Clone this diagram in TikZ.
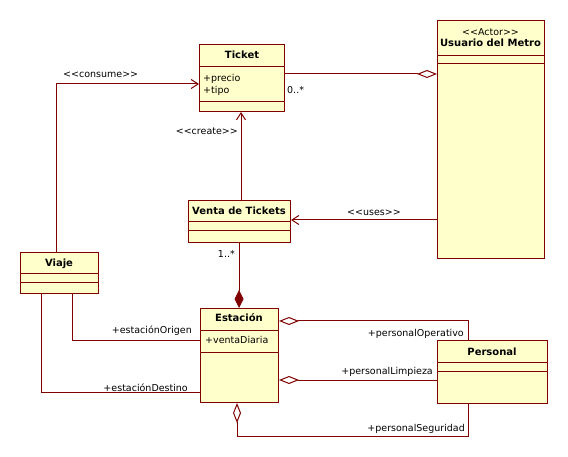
\documentclass[tikz,border=0pt]{standalone}
\usepackage{fontspec}
\setmainfont{DejaVu Sans}
\usetikzlibrary{arrows.meta,calc}
\definecolor{brd}{RGB}{128,0,0}
\definecolor{yel}{RGB}{255,255,204}
\begin{document}
\begin{tikzpicture}[x=1pt,y=-1pt,
  cls/.style={draw=brd,fill=yel,line width=1pt,inner sep=0pt,anchor=north west},
  sep/.style={draw=brd,line width=1pt},
  lbl/.style={font=\fontsize{9.5}{10}\selectfont,inner sep=0pt,anchor=base},
  ttl/.style={font=\fontsize{10}{11}\selectfont\bfseries,inner sep=0pt,anchor=base},
  conn/.style={draw=brd,line width=1pt},
  opena/.style={-{Straight Barb[length=7pt,width=9pt]}},
  agg/.style={-{Diamond[open,length=20pt,width=8pt]}},
  comp/.style={-{Diamond[length=18pt,width=9pt]}}
]
\useasboundingbox (0,0) rectangle (568,457);

% classes
\node[cls,minimum width=85pt,minimum height=67pt] (ticket) at (199,44) {};
\draw[sep] (199,67) -- (284,67);
\draw[sep] (199,102) -- (284,102);
\node[ttl] (tT) at (242,59) {Ticket};
\node[lbl,anchor=base west] (tA1) at (203,82) {+precio};
\node[lbl,anchor=base west] (tA2) at (203,94) {+tipo};

\node[cls,minimum width=107pt,minimum height=238pt] (usuario) at (437,20) {};
\draw[sep] (437,56) -- (544,56);
\draw[sep] (437,64) -- (544,64);
\node[lbl] (uS) at (490.5,36) {<{}<Actor>{}>};
\node[ttl] (uT) at (490.5,47) {Usuario del Metro};

\node[cls,minimum width=102pt,minimum height=42pt] (venta) at (188,200) {};
\draw[sep] (188,222) -- (290,222);
\draw[sep] (188,231) -- (290,231);
\node[ttl] (vT) at (239,215) {Venta de Tickets};

\node[cls,minimum width=78pt,minimum height=41pt] (viaje) at (20,252) {};
\draw[sep] (20,274) -- (98,274);
\draw[sep] (20,283) -- (98,283);
\node[ttl] (viT) at (59,267) {Viaje};

\node[cls,minimum width=78pt,minimum height=94pt] (estacion) at (200,308) {};
\draw[sep] (200,330) -- (278,330);
\draw[sep] (200,352) -- (278,352);
\node[ttl] (eT) at (239,322) {Estación};
\node[lbl,anchor=base west] (eA1) at (205,344) {+ventaDiaria};

\node[cls,minimum width=110pt,minimum height=63pt] (personal) at (437,340) {};
\draw[sep] (437,362) -- (547,362);
\draw[sep] (437,371) -- (547,371);
\node[ttl] (pT) at (492,355) {Personal};

% helper coordinates
\coordinate (cons) at (56,84);
\coordinate (cre) at (241,0);
\coordinate (uy) at (0,74);
\coordinate (usy) at (0,220);
\coordinate (cmp) at (239,0);
\coordinate (ox) at (72,340);
\coordinate (dx) at (41,392);
\coordinate (opx) at (468,321);
\coordinate (liy) at (0,380);
\coordinate (sgx) at (468,436);
\coordinate (sgd) at (237,0);

% connectors
\draw[conn,opena] (viaje.north -| cons) |- (ticket.west |- cons);
\draw[conn,opena] (venta.north -| cre) -- (ticket.south -| cre);
\draw[conn,agg] (ticket.east |- uy) -- (usuario.west |- uy);
\draw[conn,opena] (usuario.west |- usy) -- (venta.east |- usy);
\draw[conn,comp] (venta.south -| cmp) -- (estacion.north -| cmp);
\draw[conn] (viaje.south -| ox) |- (estacion.west |- ox);
\draw[conn] (viaje.south -| dx) |- (estacion.west |- dx);
\draw[conn,agg] (personal.north -| opx) |- (estacion.east |- opx);
\draw[conn,agg] (personal.west |- liy) -- (estacion.east |- liy);
\draw[conn,agg] (personal.south -| sgx) -- (sgx) -| (estacion.south -| sgd);

% connector labels
\node[lbl,anchor=base west] (lcons) at (63,78) {<{}<consume>{}>};
\node[lbl,anchor=base east] (lcre) at (238,135) {<{}<create>{}>};
\node[lbl,anchor=base west] (lmul) at (287,94) {0..*};
\node[lbl] (luses) at (374,216) {<{}<uses>{}>};
\node[lbl,anchor=base east] (lcmp) at (235,258) {1..*};
\node[lbl,anchor=base east] (lori) at (192,334) {+estaciónOrigen};
\node[lbl,anchor=base east] (ldes) at (188,391) {+estaciónDestino};
\node[lbl,anchor=base east] (lop) at (464,336) {+personalOperativo};
\node[lbl,anchor=base east] (lli) at (433,374) {+personalLimpieza};
\node[lbl,anchor=base east] (lse) at (465,431) {+personalSeguridad};
\end{tikzpicture}
\end{document}
